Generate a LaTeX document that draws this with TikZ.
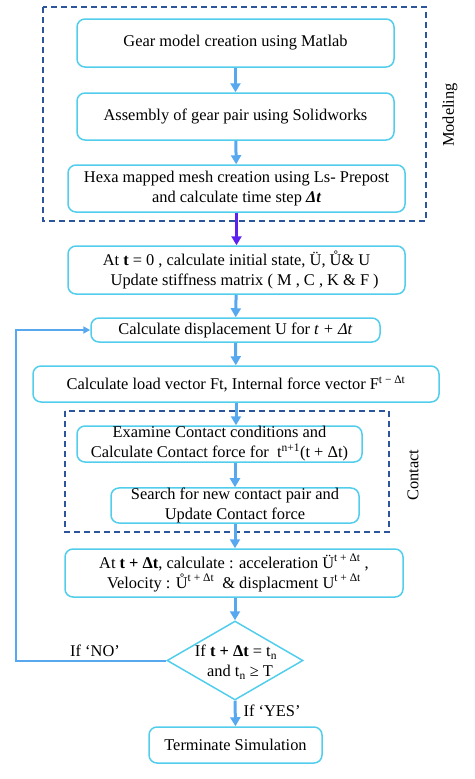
\documentclass[tikz,border=0pt]{standalone}
\usepackage{fontspec}
\setmainfont{Liberation Serif}
\usetikzlibrary{shapes.geometric,arrows.meta}
\definecolor{boxline}{RGB}{82,206,236}
\definecolor{flowblue}{RGB}{88,168,240}
\definecolor{flowpurple}{RGB}{92,32,240}
\definecolor{groupblue}{RGB}{45,85,155}
\tikzset{
    stepbox/.style={draw=boxline,line width=1.5pt,rounded corners=8pt,align=center,inner sep=0pt,font=\fontsize{16.4}{20}\selectfont},
    flow/.style={draw=flowblue,line width=3pt,-{Triangle[length=9pt,width=10pt]}},
    group/.style={draw=groupblue,line width=1.2pt,dash pattern=on 6pt off 4pt},
    tag/.style={font=\fontsize{16.4}{20}\selectfont,inner sep=0pt}
}
\begin{document}
\begin{tikzpicture}[x=1pt,y=-1pt]
        \useasboundingbox (0,0) rectangle (474,779);

        \draw [group] (43,7) rectangle (426,221);
        \node [tag,rotate=90](modeling)at(450,115){Modeling};
        \draw [group] (65,411) rectangle (389,532);
        \node [tag,rotate=90](contact)at(413,475){Contact};

        \node [stepbox,minimum width=317,minimum height=48](b1)at(235.5,43){Gear model creation using Matlab};
        \node [stepbox,minimum width=317,minimum height=47](b2)at(235.5,116.5){Assembly of gear pair using Solidworks};
        \node [stepbox,minimum width=337,minimum height=47](b3)at(236.5,188.5){Hexa mapped mesh creation using Ls- Prepost\\and calculate time step {\bfseries\itshape Δt}};
        \node [stepbox,minimum width=337,minimum height=48](b4)at(236.5,270){At \textbf{t} = 0 , calculate initial state, Ü, Ů\& U\\\quad Update stiffness matrix ( M , C , K \& F )};
        \node [stepbox,minimum width=289,minimum height=24](b5)at(235.5,330){Calculate displacement U for \textit{t + Δt}};
        \node [stepbox,minimum width=406,minimum height=36](b6)at(236,384){Calculate load vector Ft, Internal force vector F\textsuperscript{t − Δt}};
        \node [stepbox,minimum width=285,minimum height=36](b7)at(219.5,444){Examine Contact conditions and\\Calculate Contact force for\ \ t\textsuperscript{n+1}(t + Δt)};
        \node [stepbox,minimum width=248,minimum height=35](b8)at(235,505.5){Search for new contact pair and\\Update Contact force};
        \node [stepbox,minimum width=338,minimum height=48](b9)at(234,573){At \textbf{t + Δt}, calculate : acceleration Ü\textsuperscript{t + Δt} ,\\Velocity : Ů\textsuperscript{t + Δt}\ \ \& displacment U\textsuperscript{t + Δt}};
        \node [draw=boxline,line width=1.5pt,diamond,minimum width=136,minimum height=79,inner sep=0pt](d)at(235,660.5){};
        \node [tag,align=center](dtext)at(236,662){If \textbf{t + Δt} = t\textsubscript{n}\\\ \ and t\textsubscript{n} ≥ T};
        \node [stepbox,minimum width=173,minimum height=36](b10)at(235.5,745){Terminate Simulation};

        \draw [flow] (b1) -- (b2);
        \draw [flow] (b2) -- (b3);
        \draw [flow,draw=flowpurple] (b3) -- (b4);
        \draw [flow] (b4) -- (b5);
        \draw [flow] (b5) -- (b6);
        \draw [flow] (b6.south) -- (b6.south |- b7.north);
        \draw [flow] (b8.north |- b7.south) -- (b8.north);
        \draw [flow] (b8.south) -- (b8.south |- b9.north);
        \draw [flow] (b9.south -| d.north) -- (d.north);
        \draw [flow] (d.south) -- (b10.north);
        \node [tag](yes)at(272,711){If ‘YES’};

        \coordinate (back) at (16,0);
        \draw [flow,line width=2pt,-{Triangle[length=7pt,width=7pt]}] (d.west) -- (d.west -| back) |- (b5.west);
        \node [tag](no)at(95,651){If ‘NO’};
    \end{tikzpicture}
\end{document}
